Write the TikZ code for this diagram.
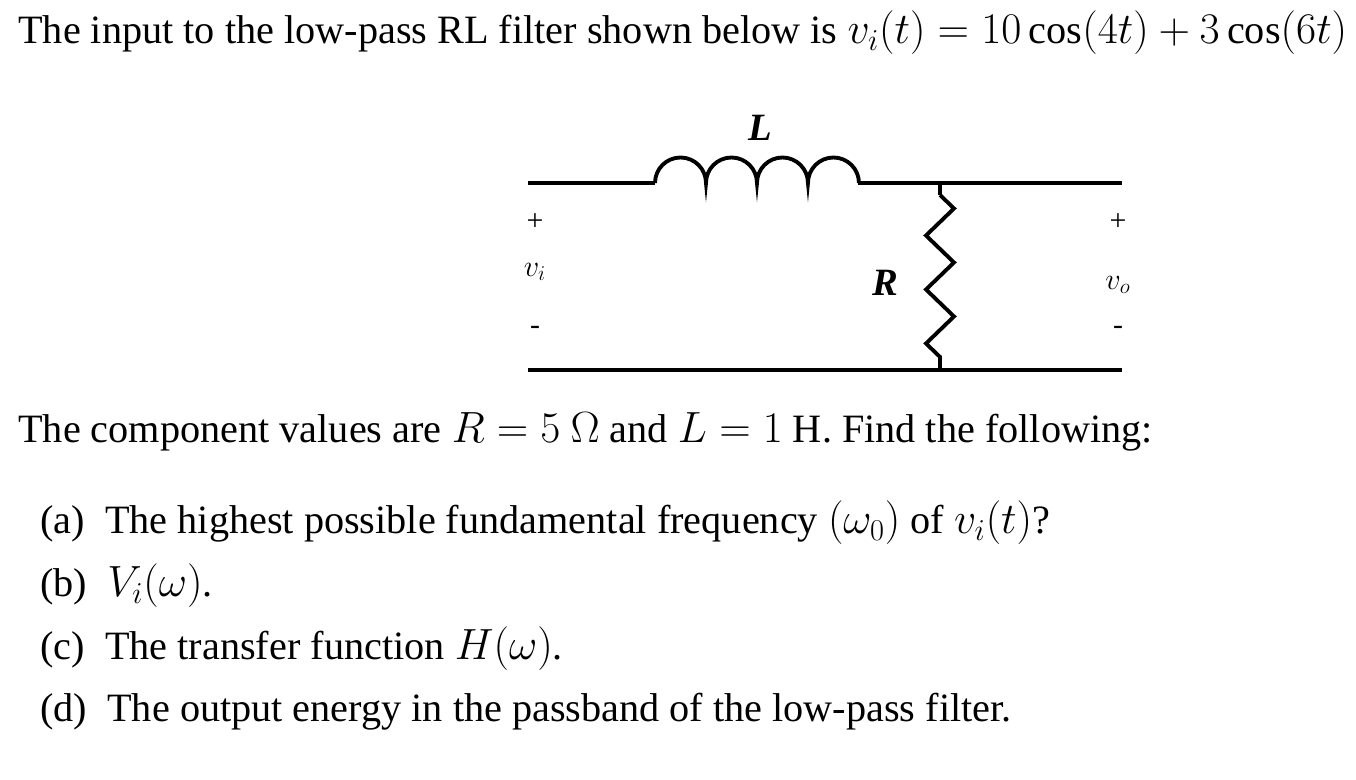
\documentclass[tikz,border=0pt]{standalone}
\usepackage{fontspec}
\setmainfont{Liberation Serif}
\usetikzlibrary{decorations.pathmorphing}
\tikzset{
  txt/.style={anchor=west,inner sep=0pt,font=\fontsize{22.9}{27}\selectfont},
  lbl/.style={inner sep=0pt,font=\fontsize{17}{20}\selectfont},
  wire/.style={line width=2.2pt},
}
\begin{document}
\begin{tikzpicture}[x=0.02cm,y=-0.02cm]
\useasboundingbox (0,0) rectangle (1356,780);
\node[txt] (t1) at (18,33) {The input to the low-pass RL filter shown below is $v_i(t)=10\cos(4t)+3\cos(6t)$ V.};
\node[txt] (t2) at (18,432) {The component values are $R=5~\Omega$ and $L=1$ H. Find the following:};
\node[txt] (qa) at (40,523) {(a)\ \ The highest possible fundamental frequency $(\omega_0)$ of $v_i(t)$?};
\node[txt] (qb) at (40,586) {(b)\ \ $V_i(\omega)$.};
\node[txt] (qc) at (40,649) {(c)\ \ The transfer function $H(\omega)$.};
\node[txt] (qd) at (40,712) {(d)\ \ The output energy in the passband of the low-pass filter.};
% circuit
\coordinate (a1) at (528,183);
\coordinate (l1) at (655,183);
\coordinate (l2) at (858,183);
\coordinate (rt) at (940,183);
\coordinate (b1) at (1122,183);
\coordinate (a2) at (528,370);
\coordinate (rb) at (940,370);
\coordinate (b2) at (1122,370);
\coordinate (r1) at (940,195);
\coordinate (r2) at (940,357);
\draw[wire] (a1) -- (l1);
\draw[wire] (l1) arc (180:0:0.51cm) arc (180:0:0.51cm) arc (180:0:0.51cm) arc (180:0:0.51cm);
\draw[wire] (l2) -- (rt) -- (b1);
\draw[wire] (rt) -- (r1);
\draw[wire,decorate,decoration={zigzag,segment length=1.08cm,amplitude=0.28cm}] (r1) -- (r2);
\draw[wire] (r2) -- (rb);
\draw[wire] (a2) -- (rb) -- (b2);
\node[lbl,font=\fontsize{22}{24}\selectfont\bfseries\itshape] (nL) at (760,128) {L};
\node[lbl,font=\fontsize{22}{24}\selectfont\bfseries\itshape] (nR) at (885,283) {R};
\node[lbl] (pi) at (535,222) {+};
\node[lbl] (vi) at (535,272) {$v_i$};
\node[lbl] (mi) at (535,330) {-};
\node[lbl] (po) at (1118,222) {+};
\node[lbl] (vo) at (1118,285) {$v_o$};
\node[lbl] (mo) at (1118,330) {-};
\end{tikzpicture}
\end{document}
